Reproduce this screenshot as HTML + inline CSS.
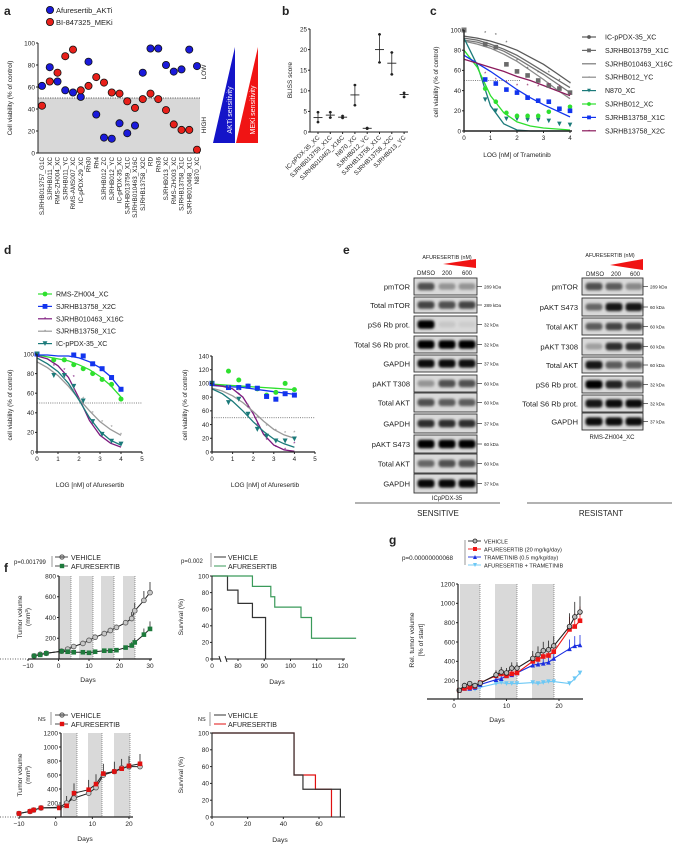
<!DOCTYPE html>
<html><head><meta charset="utf-8"><style>
html,body{margin:0;padding:0;background:#fff}
svg{display:block;font-family:"Liberation Sans",sans-serif}
text{fill:#222}
</style></head><body>
<svg id="fig" width="685" height="845" viewBox="0 0 685 845" xmlns="http://www.w3.org/2000/svg">
<defs><filter id="blur" x="-20%" y="-50%" width="140%" height="200%"><feGaussianBlur stdDeviation="1.2"/></filter></defs>
<g font-weight="bold" font-size="12">
<text x="4" y="15">a</text>
<text x="282" y="15">b</text>
<text x="430" y="15">c</text>
<text x="4" y="254">d</text>
<text x="343" y="254">e</text>
<text x="4" y="572">f</text>
<text x="389" y="544">g</text>
</g>
<g id="root"></g>
</svg>
<script>
// ---------- DATA ----------
const aCats=["SJRHB013757_G1C","SJRHB011_XC","RMS-ZH004_XC","SJRHB011_YC","RMS-AMS007_XC","IC-pPDX-29_XC","Rh30","Rh4","SJRHB012_ZC","SJRHB012_YC","IC-pPDX-35_XC","SJRHB013759_X1C","SJRHB010463_X16C","SJRHB13758_X2C","RD","Rh36","SJRHB013_XC","RMS-ZH003_XC","SJRHB13758_X1C","SJRHB010468_X1C","N870_XC"];
const aAkt=[61,78,65,57,55,51,83,35,14,13,27,18,25,73,95,95,80,74,76,94,79];
const aMek=[43,65,73,88,94,57,61,69,64,55,54,47,41,49,54,49,39,26,21,21,3];
const bCats=["IC-pPDX-35_XC","SJRHB013759_X1C","SJRHB010463_X16C","N870_XC","SJRHB012_YC","SJRHB13758_X1C","SJRHB13758_X2C","SJRHB013_YC"];
const bMean=[3.5,4.1,3.6,9,0.9,20,16.7,9.1];
const bHi=[4.8,4.8,3.9,11.4,1.0,23.7,19.3,9.5];
const bLo=[2.4,3.5,3.4,6.5,0.8,16.9,14.0,8.5];
const cNames=["IC-pPDX-35_XC","SJRHB013759_X1C","SJRHB010463_X16C","SJRHB012_YC","N870_XC","SJRHB012_XC","SJRHB13758_X1C","SJRHB13758_X2C"];
const cCurveX=[0,0.5,1,1.5,2,2.5,3,3.5,4];
const cCurve1=[94,92,89,85,80,73,66,57,48];
const cCurve2=[92,90,86,81,75,67,59,51,43];
const cCurve3=[90,88,84,79,72,64,56,47,38];
const cCurve4=[89,86,82,76,69,60,51,41,32];
const cCurve5=[92,65,25,7,1,0,0,0,0];
const cCurve6=[80,63,35,18,9,5,3,2,1];
const cCurve7=[75,67,59,50,41,33,26,20,14];
const cCurve8=[71,67,63,59,54,50,45,40,35];
const cPtX=[0.8,1.2,1.6,2,2.4,2.8,3.2,3.6,4];
const cPts1=[97,95,88,70,62,58,58,50,47];
const cPts2=[86,83,66,59,55,50,45,42,38];
const cPts5=[31,20,12,12,11,11,10,7,6];
const cPts6=[42,29,18,15,15,15,19,22,24];
const cPts7=[51,47,41,38,33,30,29,22,20];
const cPts8=[57,51,48,45,45,44,46,44,36];
const dNames=["RMS-ZH004_XC","SJRHB13758_X2C","SJRHB010463_X16C","SJRHB13758_X1C","IC-pPDX-35_XC"];
const dPtX=[0,0.8,1.3,1.75,2.2,2.65,3.1,3.55,4];
const dL1=[100,94,94,89,85,80,74,69,54];
const dL2=[100,null,null,99,98,90,85,76,64];
const dL3=[100,88,84,77,52,30,17,10,8];
const dL4=[100,80,75,63,55,40,31,26,18];
const dL5=[100,78,78,67,52,31,18,11,8];
const dLc1=[99,97,95,93,89,84,77,68,56];
const dLc2=[99,99,98,98,96,92,86,77,64];
const dLc3=[98,95,88,76,55,32,17,9,5];
const dLc4=[92,86,78,67,54,42,31,23,17];
const dLc5=[96,90,82,70,53,35,21,12,7];
const dR1=[100,118,105,96,92,83,87,100,91];
const dR2=[100,94,94,96,93,81,77,85,83];
const dR3=[100,93,84,65,40,18,8,4,13];
const dR4=[100,95,90,68,50,38,32,28,29];
const dR5=[100,72,77,55,33,23,16,16,19];
const dRc1=[99,98,97,96,95,94,93,92,91];
const dRc2=[97,96,95,94,92,90,88,86,84];
const dRc3=[98,96,92,80,56,26,10,3,1];
const dRc4=[93,89,82,72,59,45,33,25,20];
const dRc5=[92,85,74,60,44,30,19,12,7];
const eLeftLabels=["pmTOR","Total mTOR","pS6 Rb prot.","Total S6 Rb prot.","GAPDH","pAKT T308","Total AKT","GAPDH","pAKT S473","Total AKT","GAPDH"];
const eLeftKda=["289 kDa","289 kDa","32 kDa","32 kDa","37 kDa","60 kDa","60 kDa","37 kDa","60 kDa","60 kDa","37 kDa"];
const eLeftBands=[[.6,.3,.3],[.65,.6,.65],[1,.08,.05],[.95,.95,.95],[.9,.9,.88],[.3,.6,.6],[.6,.55,.55],[.75,.75,.75],[.95,.95,.95],[.5,.6,.6],[.92,.92,.92]];
const eRightLabels=["pmTOR","pAKT S473","Total AKT","pAKT T308","Total AKT","pS6 Rb prot.","Total S6 Rb prot.","GAPDH"];
const eRightKda=["289 kDa","60 kDa","60 kDa","60 kDa","60 kDa","32 kDa","32 kDa","37 kDa"];
const eRightBands=[[.6,.55,.35],[.5,.85,.85],[.55,.65,.65],[.25,.75,.75],[.85,.55,.55],[1,.8,.6],[.85,.9,.9],[.9,.9,.9]];
const f1Days=[-8,-6,-4,1,3,5,8,10,12,15,17,19,22,24,25,28,30];
const f1Veh=[30,45,55,75,95,120,150,180,210,245,275,305,350,390,465,565,640];
const f1Afu=[30,40,55,75,70,65,65,60,70,80,80,85,110,130,160,235,290];
const s1VehT=[0,76,80,85.5,90.5];
const s1VehV=[100,83,67,50,0];
const s1AfuT=[0,85.5,92.5,94,104,108,125];
const s1AfuV=[100,87.5,75,62.5,50,25,25];
const f2Days=[-10,-7,-6,-4,1,3,5,9,11,13,16,18,20,23];
const f2Veh=[50,80,100,130,140,200,270,340,420,600,650,700,720,720];
const f2Afu=[50,80,100,130,130,160,340,390,470,620,650,690,730,760];
const s2VehT=[0,46,51,72];
const s2VehV=[100,50,33,0];
const s2AfuT=[0,46,58,67];
const s2AfuV=[100,50,33,0];
const gDays=[1,2,3,4,5,8,9,10,11,12,15,16,17,18,19,22,23,24];
const gVeh=[100,150,170,150,175,260,290,280,330,330,430,470,510,520,560,760,860,910];
const gAfu=[100,120,130,140,180,250,270,250,270,280,400,420,450,460,500,730,760,820];
const gTra=[100,120,120,130,160,210,220,250,260,280,360,370,380,390,430,530,560,570];
const gCom=[100,120,130,110,130,170,180,170,170,170,180,170,180,190,190,170,220,280];

// ---------- HELPERS ----------
const NS="http://www.w3.org/2000/svg";
const root=document.getElementById('root');
function mk(tag,attrs,parent){const e=document.createElementNS(NS,tag);for(const k in attrs)e.setAttribute(k,attrs[k]);(parent||root).appendChild(e);return e;}
function lin(d0,d1,r0,r1){return v=>r0+(v-d0)*(r1-r0)/(d1-d0);}
function txt(x,y,s,size,anchor,rot,name,fill){const t=mk('text',{x:x,y:y,'font-size':size,'text-anchor':anchor||'start'});if(rot)t.setAttribute('transform','rotate('+rot+' '+x+' '+y+')');if(fill)t.style.fill=fill;t.textContent=s;


return t;}
function line(x1,y1,x2,y2,st,w,dash){const l=mk('line',{x1:x1,y1:y1,x2:x2,y2:y2,stroke:st||'#222','stroke-width':w||1});if(dash)l.setAttribute('stroke-dasharray',dash);


return l;}
function marker(shape,x,y,s,fill,stroke){let e;
 if(shape==='c')e=mk('circle',{cx:x,cy:y,r:s,fill:fill,stroke:stroke||'none','stroke-width':0.8});
 else if(shape==='s')e=mk('rect',{x:x-s,y:y-s,width:2*s,height:2*s,fill:fill});
 else if(shape==='v')e=mk('polygon',{points:(x-s)+','+(y-s)+' '+(x+s)+','+(y-s)+' '+x+','+(y+s),fill:fill});
 else if(shape==='^')e=mk('polygon',{points:(x-s)+','+(y+s)+' '+(x+s)+','+(y+s)+' '+x+','+(y-s),fill:fill});
 else {e=mk('text',{x:x,y:y+s*1.2,'font-size':s*3,'text-anchor':'middle'});e.style.fill=fill;e.textContent='*';}
 
 
 return e;}
function poly(xs,ys,sx,sy,col,w,name){const p=[];for(let i=0;i<xs.length;i++){if(ys[i]==null)continue;p.push(sx(xs[i]).toFixed(1)+','+sy(ys[i]).toFixed(1));}
 const e=mk('polyline',{points:p.join(' '),fill:'none',stroke:col,'stroke-width':w||1.2});
 
 
 return e;}
function step(ts,vs,tEnd,sx,sy,col,name){let p=[];for(let i=0;i<ts.length;i++){const t1=i<ts.length-1?ts[i+1]:tEnd;p.push(sx(ts[i])+','+sy(vs[i]));p.push(sx(t1)+','+sy(vs[i]));if(i<ts.length-1)p.push(sx(t1)+','+sy(vs[i+1]));}
 const e=mk('polyline',{points:p.join(' '),fill:'none',stroke:col,'stroke-width':1.2});
 
 
 return e;}
function yTicks(vals,sy,x,size){vals.forEach(v=>{line(x-2,sy(v),x,sy(v));txt(x-3,sy(v)+2.3,String(v),size||6.5,'end',0,'y-tick-label');});}
function xTicks(vals,sx,y,size,lbls){vals.forEach((v,i)=>{line(sx(v),y,sx(v),y+2);txt(sx(v),y+9,lbls?lbls[i]:String(v),size||6.5,'middle',0,'x-tick-label');});}

// ---------- PANEL A ----------
(function(){
 const xA=i=>42+i*7.75, yA=lin(0,100,153,43);
 const g=mk('rect',{x:38,y:yA(50),width:162,height:yA(0)-yA(50),fill:'#d8d8d8'});
 
 
 line(38,yA(50),200,yA(50),'#333',0.8,'1.2,1.2');
 line(38,43,38,153);line(38,153,200,153);
 yTicks([0,20,40,60,80,100],yA,38,6.5);
 txt(12,98,'Cell viability (% of control)',6.5,'middle',-90,'y-axis-title');
 aCats.forEach((c,i)=>{txt(xA(i)+2,157,c,6.3,'end',-90,'category-label');});
 aAkt.forEach((v,i)=>{const d=marker('c',xA(i),yA(v),3.6,'#1a1adb','#111');
  });
 aMek.forEach((v,i)=>{const d=marker('c',xA(i),yA(v),3.6,'#e8201a','#111');
  });
 marker('c',50,10,3.6,'#1a1adb','#111');txt(56,13,'Afuresertib_AKTi',7.5,'start',0,'legend-entry');
 marker('c',50,22,3.6,'#e8201a','#111');txt(56,25,'BI-847325_MEKi',7.5,'start',0,'legend-entry');
 txt(206,72,'LOW',6.5,'middle',-90,'low-label');txt(206,125,'HIGH',6.5,'middle',-90,'high-label');
 const t1=mk('polygon',{points:'213,143 235,47 235,143',fill:'#1414c8'});
 
 
 const t2=mk('polygon',{points:'236,143 258,47 258,143',fill:'#f01414'});
 
 
 txt(232,110,'AKTi sensitivity',7,'middle',-90,'akti-sensitivity-label','#fff');
 txt(255,110,'MEKi sensitivity',7,'middle',-90,'meki-sensitivity-label','#fff');
})();

// ---------- PANEL B ----------
(function(){
 const xB=i=>318+i*12.3, yB=lin(0,25,132,29);
 line(310,29,310,132);line(310,132,408,132);
 yTicks([0,5,10,15,20,25],yB,310,6.3);
 txt(292,80,'BLISS score',6.5,'middle',-90,'y-axis-title');
 bCats.forEach((c,i)=>{line(xB(i),132,xB(i),134);txt(xB(i)+2,138,c,6.2,'end',-45,'category-label');
  line(xB(i),yB(bLo[i]),xB(i),yB(bHi[i]),'#222',0.8);
  line(xB(i)-1.5,yB(bHi[i]),xB(i)+1.5,yB(bHi[i]),'#222',0.8);
  line(xB(i)-1.5,yB(bLo[i]),xB(i)+1.5,yB(bLo[i]),'#222',0.8);
  const m=line(xB(i)-4.5,yB(bMean[i]),xB(i)+4.5,yB(bMean[i]),'#222',0.9);
  
  marker('c',xB(i),yB(bHi[i]),1.3,'#222');marker('c',xB(i),yB(bLo[i]),1.3,'#222');});
})();

// ---------- PANEL C ----------
(function(){
 const xC=lin(0,4,464,570), yC=lin(0,100,131,30);
 line(464,yC(50),520,yC(50),'#555',0.7,'1,1.2');
 const cols=['#5a5a5a','#6a6a6a','#787878','#8a8a8a','#1b7a7a','#2ee02e','#1234ee','#8b1a5c'];
 const curves=[cCurve1,cCurve2,cCurve3,cCurve4,cCurve5,cCurve6,cCurve7,cCurve8];
 curves.forEach((cv,i)=>poly(cCurveX,cv,xC,yC,cols[i],1.3,'curve-'+cNames[i]));
 const pts=[[cPts1,'*',cols[0]],[cPts2,'s',cols[1]],[cPts5,'v',cols[4]],[cPts6,'c',cols[5]],[cPts7,'s',cols[6]],[cPts8,'*',cols[7]]];
 pts.forEach(p=>p[0].forEach((v,i)=>marker(p[1],xC(cPtX[i]),yC(v),p[1]==='*'?1.8:2.3,p[2])));
 marker('s',xC(0),yC(100),2.5,'#777');
 line(464,30,464,131,'#222',1.4);line(464,131,572,131,'#222',1.4);
 yTicks([0,20,40,60,80,100],yC,464,6.3);xTicks([0,1,2,3,4],xC,131,6.3);
 txt(438,82,'cell viability (% of control)',6.3,'middle',-90,'y-axis-title');
 txt(517,157,'LOG [nM] of Trametinib',6.5,'middle',0,'x-axis-title');
 const sh=['c','s','-','*','v','c','s','*'];
 cNames.forEach((n,i)=>{const y=37+i*13.4;line(582,y,596,y,cols[i],1.2);if(sh[i]!=='-')marker(sh[i],589,y,sh[i]==='*'?1.6:1.9,cols[i]);txt(605,y+2.5,n,7,'start',0,'legend-entry');});
})();

// ---------- PANEL D ----------
(function(){
 const cols=['#2ee02e','#1234ee','#7e1a7e','#999999','#1b7a7a'];
 const sh=['c','s','*','*','v'];
 dNames.forEach((n,i)=>{const y=294+i*12.4;line(38,y,52,y,cols[i],1.2);marker(sh[i],45,y,sh[i]==='*'?1.8:2.4,cols[i]);txt(56,y+2.5,n,7,'start',0,'legend-entry');});
 const sets=[{sx:lin(0,5,37,142),sy:lin(0,100,452,354),ticks:[0,20,40,60,80,100],pts:[dL1,dL2,dL3,dL4,dL5],cv:[dLc1,dLc2,dLc3,dLc4,dLc5],ax:37,x0:37,tx:90},
             {sx:lin(0,5,212,315),sy:lin(0,140,452,356),ticks:[0,20,40,60,80,100,120,140],pts:[dR1,dR2,dR3,dR4,dR5],cv:[dRc1,dRc2,dRc3,dRc4,dRc5],ax:212,x0:212,tx:265}];
 sets.forEach((s,k)=>{
  line(s.sx(0),s.sy(50),s.sx(5),s.sy(50),'#555',0.7,'1,1.2');
  s.cv.forEach((c,i)=>poly(cCurveX,c,s.sx,s.sy,cols[i],1.3,'curve-'+dNames[i]));
  s.pts.forEach((p,i)=>p.forEach((v,j)=>{if(v!=null)marker(sh[i],s.sx(dPtX[j]),s.sy(v),sh[i]==='*'?1.9:2.5,cols[i]);}));
  line(s.ax,s.sy(s.ticks[s.ticks.length-1]),s.ax,452,'#222',1.3);line(s.ax,452,s.sx(5),452,'#222',1.3);
  yTicks(s.ticks,s.sy,s.ax,6.3);xTicks([0,1,2,3,4,5],s.sx,452,6.3);
  txt(s.ax-25,405,'cell viability (% of control)',6.3,'middle',-90,'y-axis-title');
  txt(s.tx,487,'LOG [nM] of Afuresertib',6.5,'middle',0,'x-axis-title');
 });
})();

// ---------- PANEL E ----------
(function(){
 function blot(x0,x1,rows,labels,kdas,bands,lanes){
  rows.forEach((r,i)=>{const b=mk('rect',{x:x0,y:r[0],width:x1-x0,height:r[1]-r[0],fill:'#d9d9d9',stroke:'#333','stroke-width':0.9});
   
   
   const cy=(r[0]+r[1])/2;
   bands[i].forEach((v,j)=>{const band=mk('rect',{x:lanes[j]-8.5,y:cy-2.8-v*1.5,width:17,height:5.6+v*3,rx:3,fill:'#000',opacity:Math.min(1,v*1.05),filter:'url(#blur)'});
    
    });
   txt(x0-4,cy+3,labels[i],7.5,'end',0,'blot-label');
   line(x1,cy,x1+5,cy,'#333',0.7);
   txt(x1+7,cy+2,kdas[i],4.6,'start',0,'kda-label');});
 }
 const lr=[[278,295],[297,313],[316,333],[336,353],[355,372],[375,392],[393,412],[414,433],[435,453],[454,473],[474,493]];
 blot(414,477,lr,eLeftLabels,eLeftKda,eLeftBands,[426,447,467]);
 const rr=[[278,295],[298,316],[318,335],[338,355],[357,373],[376,393],[395,412],[413,430]];
 blot(582,643,rr,eRightLabels,eRightKda,eRightBands,[594,614,634]);
 txt(447,259,'AFURESERTIB (nM)',5.3,'middle',0,'treatment-header');
 txt(610,257,'AFURESERTIB (nM)',5.3,'middle',0,'treatment-header');
 const tr1=mk('polygon',{points:'443,264 476,259 476,268',fill:'#f01414'});
 
 
 const tr2=mk('polygon',{points:'610,265 643,259 643,270',fill:'#f01414'});
 
 
 [['DMSO',426],['200',447],['600',467]].forEach(a=>txt(a[1],275,a[0],6,'middle',0,'lane-label'));
 [['DMSO',595],['200',616],['600',635]].forEach(a=>txt(a[1],276,a[0],6,'middle',0,'lane-label'));
 txt(447,500,'ICpPDX-35',6,'middle',0,'cell-line-label');
 txt(612,439,'RMS-ZH004_XC',6,'middle',0,'cell-line-label');
 line(355,503,500,503,'#333',0.8);line(527,503,672,503,'#333',0.8);
 txt(438,516,'SENSITIVE',8,'middle',0,'sensitive-label');
 txt(601,516,'RESISTANT',8,'middle',0,'resistant-label');
})();

// ---------- PANEL F ----------
(function(){
 function bands(list,y0,y1){list.forEach(b=>{const r=mk('rect',{x:b[0],y:y0,width:b[1]-b[0],height:y1-y0,fill:'#d9d9d9'});
  
  
  line(b[1],y0,b[1],y1,'#555',0.6,'1,1');});}
 let sx=lin(-10,30,28,150), sy=lin(0,800,659,576);
 bands([[59,71],[79,93],[101,114],[123,135]],576,659);
 line(0,659,26,659,'#333',0.8,'1,1.5');
 poly(f1Days,f1Veh,sx,sy,'#222',1,'vehicle-line');poly(f1Days,f1Afu,sx,sy,'#222',1,'afuresertib-line');
 f1Days.forEach((d,i)=>{if(d>=24){line(sx(d),sy(f1Veh[i]),sx(d),sy(f1Veh[i]*1.16),'#222',0.8);line(sx(d),sy(f1Afu[i]),sx(d),sy(f1Afu[i]*1.25),'#222',0.8);}});
 f1Veh.forEach((v,i)=>marker('c',sx(f1Days[i]),sy(v),2.4,'#c8c8c8','#555'));
 f1Afu.forEach((v,i)=>marker('s',sx(f1Days[i]),sy(v),2.3,'#1e7a3c'));
 line(59,576,59,659,'#222',1.2);line(28,659,152,659,'#222',1.2);
 yTicks([200,400,600,800],sy,59,6.5);xTicks([-10,0,10,20,30],sx,659,6.5,['\u221210','0','10','20','30']);
 txt(22,617,'Tumor volume',6.8,'middle',-90,'y-axis-title');txt(30,617,'(mm\u00b3)',6.8,'middle',-90,'y-axis-unit');
 txt(88,682,'Days',6.8,'middle',0,'x-axis-title');
 txt(14,564,'p=0.001799',6,'start',0,'p-value');
 line(52,556,52,567,'#555',0.6);
 marker('c',62,557,2.2,'#c8c8c8','#555');line(55,557,68,557,'#222',0.8);txt(71,560,'VEHICLE',7,'start',0,'legend-entry');
 line(55,566,68,566,'#222',0.8);marker('s',62,566,2.2,'#1e7a3c');txt(71,569,'AFURESERTIB',7,'start',0,'legend-entry');
 const sxs=d=>d<70?212+d*0.25:238+(d-80)*2.625, sys=lin(0,100,659,576);
 step(s1VehT,s1VehV,90.5,sxs,sys,'#333','vehicle-survival');
 step(s1AfuT,s1AfuV,125,sxs,sys,'#3a9a5a','afuresertib-survival');
 line(212,576,212,659,'#222',1.1);line(212,659,220,659,'#222',1.1);line(226,659,345,659,'#222',1.1);
 line(219,656,221,662);line(225,656,227,662);
 yTicks([0,20,40,60,80,100],sys,212,6.5);
 xTicks([80,90,100,110,120],sxs,659,6.5);line(212,659,212,661);txt(212,668,'0',6.5,'middle',0,'x-tick-label');
 txt(183,617,'Survival (%)',6.8,'middle',-90,'y-axis-title');txt(277,684,'Days',6.8,'middle',0,'x-axis-title');
 txt(181,563,'p=0.002',6,'start',0,'p-value');
 line(211,553,211,567,'#555',0.6);
 line(214,557,226,557,'#333',1);txt(228,560,'VEHICLE',7,'start',0,'legend-entry');
 line(214,566,226,566,'#3a9a5a',1);txt(228,569,'AFURESERTIB',7,'start',0,'legend-entry');
 sx=lin(-10,20,19,129); sy=lin(0,1200,817,733);
 bands([[63,77],[88,102],[114,130]],733,817);
 line(0,817,18,817,'#333',0.8,'1,1.5');
 poly(f2Days,f2Veh,sx,sy,'#222',1,'vehicle-line');poly(f2Days,f2Afu,sx,sy,'#222',1,'afuresertib-line');
 f2Days.forEach((d,i)=>{if(d>=3){line(sx(d),sy(f2Afu[i]),sx(d),sy(f2Afu[i]+140),'#222',0.8);}});
 f2Veh.forEach((v,i)=>marker('c',sx(f2Days[i]),sy(v),2.4,'#c8c8c8','#555'));
 f2Afu.forEach((v,i)=>marker('s',sx(f2Days[i]),sy(v),2.3,'#e01010'));
 line(61,733,61,817,'#222',1.2);line(19,817,133,817,'#222',1.2);
 yTicks([200,400,600,800,1000,1200],sy,61,6.5);xTicks([-10,0,10,20],sx,817,6.5,['\u221210','0','10','20']);
 txt(22,775,'Tumor volume',6.8,'middle',-90,'y-axis-title');txt(30,775,'(mm\u00b3)',6.8,'middle',-90,'y-axis-unit');
 txt(85,841,'Days',6.8,'middle',0,'x-axis-title');
 txt(38,721,'NS',5.5,'start',0,'ns-label');line(51,712,51,725,'#555',0.6);
 marker('c',62,715,2.2,'#c8c8c8','#555');line(55,715,68,715,'#222',0.8);txt(71,718,'VEHICLE',7,'start',0,'legend-entry');
 line(55,724,68,724,'#222',0.8);marker('s',62,724,2.2,'#e01010');txt(71,727,'AFURESERTIB',7,'start',0,'legend-entry');
 const sx2=lin(0,60,212,319), sy2=lin(0,100,817,733);
 step(s2AfuT,s2AfuV,67,sx2,sy2,'#e01010','afuresertib-survival');
 step(s2VehT,s2VehV,72,sx2,sy2,'#333','vehicle-survival');
 line(212,733,212,817,'#222',1.1);line(212,817,345,817,'#222',1.1);
 yTicks([0,20,40,60,80,100],sy2,212,6.5);xTicks([0,20,40,60],sx2,817,6.5);
 txt(183,775,'Survival (%)',6.8,'middle',-90,'y-axis-title');txt(280,842,'Days',6.8,'middle',0,'x-axis-title');
 txt(198,721,'NS',5.5,'start',0,'ns-label');line(210,712,210,726,'#555',0.6);
 line(214,715,226,715,'#333',1);txt(228,718,'VEHICLE',7,'start',0,'legend-entry');
 line(214,724,226,724,'#e01010',1);txt(228,727,'AFURESERTIB',7,'start',0,'legend-entry');
})();

// ---------- PANEL G ----------
(function(){
 const sx=lin(0,20,454,559), sy=lin(0,1200,700,584);
 [[460,480],[495,517],[532,554]].forEach(b=>{const r=mk('rect',{x:b[0],y:584,width:b[1]-b[0],height:115,fill:'#d9d9d9'});
  
  
  line(b[1],584,b[1],699,'#555',0.6,'1,1');});
 const ser=[[gCom,'#6cc8f5','v'],[gTra,'#1a2ee0','^'],[gAfu,'#ee1515','s'],[gVeh,'#222','c']];
 ser.forEach(s=>{s[0].forEach((v,i)=>{if(gDays[i]>=8&&s[2]!=='v')line(sx(gDays[i]),sy(v),sx(gDays[i]),sy(v*1.18),s[1],0.8);});
  poly(gDays,s[0],sx,sy,s[1],1.1,'series-line');
  s[0].forEach((v,i)=>{if(s[2]==='c')marker('c',sx(gDays[i]),sy(v),2.3,'#bbb','#222');else marker(s[2],sx(gDays[i]),sy(v),2.3,s[1]);});});
 line(458,584,458,699,'#222',1.2);line(427,699,583,699,'#222',1.2);
 yTicks([200,400,600,800,1000,1200],sy,458,6.5);xTicks([0,10,20],sx,699,6.5);
 txt(414,640,'Rel. tumor volume',6.8,'middle',-90,'y-axis-title');txt(423,640,'[% of start]',6.8,'middle',-90,'y-axis-title');
 txt(497,722,'Days',6.8,'middle',0,'x-axis-title');
 txt(402,560,'p=0.00000000068',6.3,'start',0,'p-value');
 line(465,540,465,565,'#555',0.6);
 const lg=[['VEHICLE','#222','c'],['AFURESERTIB (20 mg/kg/day)','#ee1515','s'],['TRAMETINIB (0.5 mg/kg/day)','#1a2ee0','^'],['AFURESERTIB + TRAMETINIB','#6cc8f5','v']];
 lg.forEach((l,i)=>{const y=541+i*8;line(468,y,481,y,l[1],0.9);if(l[2]==='c')marker('c',475,y,2,'#bbb','#222');else marker(l[2],475,y,2,l[1]);txt(484,y+2.3,l[0],5.6,'start',0,'legend-entry');});
})();
</script>
</body></html>
